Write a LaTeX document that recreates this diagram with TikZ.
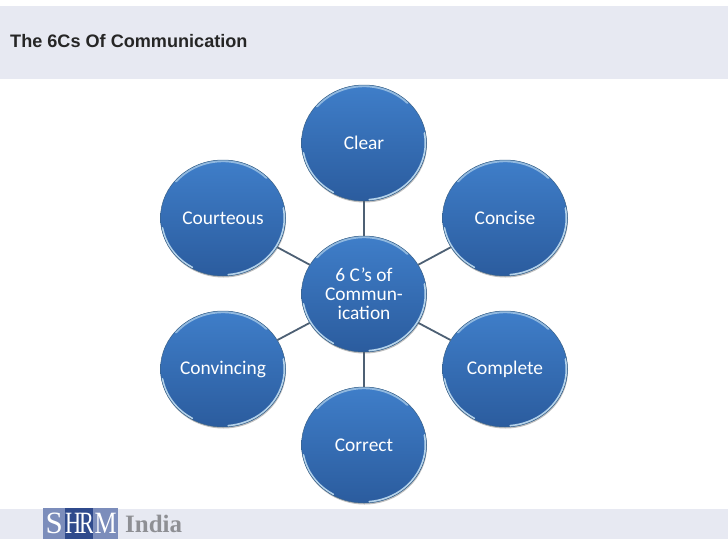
\documentclass[tikz,border=0pt]{standalone}
\usepackage{fontspec}
\setmainfont{Carlito}
\newfontfamily\titlefont{Liberation Sans}
\newfontfamily\logofont{Liberation Serif}
\usetikzlibrary{shapes.geometric,shadows}
\definecolor{bandgrey}{HTML}{E7E9F2}
\definecolor{balltop}{HTML}{3F7EC9}
\definecolor{ballbottom}{HTML}{2B5C9E}
\definecolor{ballrim}{HTML}{3A6288}
\definecolor{rimlight}{HTML}{B4D2EA}
\definecolor{linkgrey}{HTML}{4D6074}
\definecolor{logolight}{HTML}{7C8DBB}
\definecolor{logodark}{HTML}{2F4A8C}
\definecolor{logogrey}{HTML}{8E8F94}
\begin{document}
\begin{tikzpicture}[x=1pt,y=-1pt,
  ball/.style={ellipse,draw=ballrim,line width=0.5pt,top color=balltop,bottom color=ballbottom,
    minimum width=125pt,minimum height=116pt,inner sep=0pt,align=center,text=white,
    font=\fontsize{19.4}{19}\selectfont,
    drop shadow={shadow xshift=0.5pt,shadow yshift=-1.5pt,opacity=0.25,fill=black},
    path picture={
      \draw[rimlight!70!balltop,line width=2.4pt,line cap=round]
        (path picture bounding box.center) ++(140:61.5pt and 57pt)
        arc[start angle=140,end angle=45,x radius=61.5pt,y radius=57pt];
      \draw[rimlight,line width=2pt,line cap=round]
        (path picture bounding box.center) ++(10:61.5pt and 57pt)
        arc[start angle=10,end angle=-85,x radius=61.5pt,y radius=57pt];
      \draw[rimlight,line width=1.8pt,line cap=round]
        (path picture bounding box.center) ++(-170:61.5pt and 57pt)
        arc[start angle=-170,end angle=-120,x radius=61.5pt,y radius=57pt];
    }},
  link/.style={draw=linkgrey,line width=1.8pt},
  band/.style={fill=bandgrey,draw=none},
  logobox/.style={minimum height=31pt,inner sep=0pt,text=white,font=\logofont\fontsize{31}{31}\selectfont}]
\useasboundingbox (0,0) rectangle (728,546);
\fill[white] (0,0) rectangle (728,546);
% header and footer
\fill[band] (0,6) rectangle (728,79);
\fill[band] (0,509) rectangle (728,539);
\node[anchor=west,inner sep=0pt,text=black!85,font=\titlefont\bfseries\fontsize{18.1}{20}\selectfont] at (10,41) (title) {The 6Cs Of Communication};
% circles
\node[ball] at (364,294) (hub) {6 C’s of\\Commun-\\ication};
\node[ball] at (364,143) (clear) {Clear};
\node[ball] at (505,218) (concise) {Concise};
\node[ball] at (505,369) (complete) {Complete};
\node[ball] at (364,445) (correct) {Correct};
\node[ball] at (223,369) (convincing) {Convincing};
\node[ball] at (223,218) (courteous) {Courteous};
\draw[link] (hub) -- (clear);
\draw[link] (hub) -- (concise);
\draw[link] (hub) -- (complete);
\draw[link] (hub) -- (correct);
\draw[link] (hub) -- (convincing);
\draw[link] (hub) -- (courteous);
% logo
\node[logobox,fill=logolight,minimum width=22pt,anchor=west] at (43,523.5) (logoS) {S};
\node[logobox,fill=logodark,minimum width=28pt,anchor=west] at (65,523.5) (logoHR) {\scalebox{0.72}[1]{H\kern-3pt R}};
\node[logobox,fill=logolight,minimum width=25pt,anchor=west] at (93,523.5) (logoM) {\scalebox{0.8}[1]{M}};
\node[anchor=west,inner sep=0pt,text=logogrey,font=\logofont\bfseries\fontsize{25}{25}\selectfont] at (125,524) (india) {India};
\end{tikzpicture}
\end{document}
